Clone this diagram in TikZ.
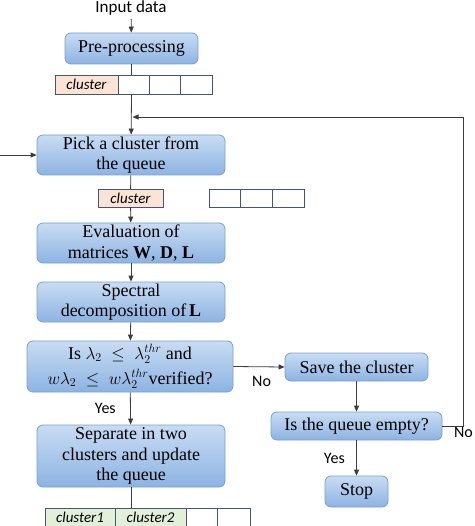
\documentclass[tikz,border=0pt]{standalone}
\usepackage{fontspec}
\setmainfont{Liberation Serif}
\newfontfamily\labelfont{Carlito}
\usetikzlibrary{positioning, arrows.meta}
\definecolor{blktop}{RGB}{200, 220, 243}
\definecolor{blkbot}{RGB}{141, 179, 226}
\definecolor{blkline}{RGB}{122, 160, 208}
\definecolor{cellline}{RGB}{70, 85, 115}
\definecolor{peach}{RGB}{251, 228, 213}
\definecolor{leaf}{RGB}{226, 239, 217}
\definecolor{lncol}{RGB}{60, 60, 60}

\begin{document}
\begin{tikzpicture}[x=1pt, y=-1pt,
        blk/.style={draw=blkline, line width=0.8pt, rounded corners=6pt,
                    top color=blktop, bottom color=blkbot, align=center,
                    inner sep=0pt, font=\rmfamily\fontsize{18}{20.5}\selectfont},
        cell/.style={draw=cellline, line width=0.8pt, minimum height=19pt,
                     inner sep=0pt, outer sep=0pt,
                     font=\labelfont\itshape\fontsize{15}{18}\selectfont},
        lbl/.style={font=\labelfont\fontsize{16}{19}\selectfont},
        arr/.style={draw=lncol, line width=0.8pt,
                    -{Triangle[length=6pt, width=5pt]}},
        lnk/.style={draw=lncol, line width=0.8pt}
    ]
    \useasboundingbox (0, 0) rectangle (474, 526);

    % main column
    \node[lbl, font=\labelfont\fontsize{17}{20}\selectfont] (inp) at (131, 8) {Input data};
    \node[blk, minimum width=133pt, minimum height=31pt] (pre) at (131.5, 48.5) {Pre-processing};
    \node[blk, minimum width=188pt, minimum height=40pt] (pick) at (131, 155)
        {Pick a cluster from\\the queue};
    \node[blk, minimum width=188pt, minimum height=40pt] (eval) at (131, 243)
        {Evaluation of\\matrices \textbf{W}, \textbf{D}, \textbf{L}};
    \node[blk, minimum width=188pt, minimum height=40pt] (spec) at (131, 302)
        {Spectral\\decomposition of\,\textbf{L}};
    \node[blk, minimum width=206pt, minimum height=51pt,
          font=\rmfamily\fontsize{18}{25}\selectfont] (test) at (130, 366.5)
        {Is $\lambda_2 \;\leq\; \lambda_2^{thr}$ and\\
         $w\lambda_2 \;\leq\; w\lambda_2^{thr}$verified?};
    \node[blk, minimum width=188pt, minimum height=62pt] (split) at (131, 456)
        {Separate in two\\clusters and update\\the queue};

    % right column
    \node[blk, minimum width=143pt, minimum height=28pt] (save) at (356.5, 367) {Save the cluster};
    \node[blk, minimum width=171pt, minimum height=28pt] (empty) at (356.5, 426) {Is the queue empty?};
    \node[blk, minimum width=63pt, minimum height=31pt] (stop) at (356.5, 491.5) {Stop};

    % queues
    \node[cell, fill=peach, minimum width=63pt] (qa1) at (86.5, 84.5) {cluster};
    \node[cell, minimum width=31.3pt, right=0pt of qa1] (qa2) {};
    \node[cell, minimum width=31.3pt, right=0pt of qa2] (qa3) {};
    \node[cell, minimum width=31.3pt, right=0pt of qa3] (qa4) {};

    \node[cell, fill=peach, minimum width=65pt, minimum height=18pt] (qb1) at (130.5, 198) {cluster};
    \node[cell, minimum width=31.7pt, minimum height=18pt] (qb2) at (224.8, 198) {};
    \node[cell, minimum width=31.7pt, minimum height=18pt, right=0pt of qb2] (qb3) {};
    \node[cell, minimum width=31.7pt, minimum height=18pt, right=0pt of qb3] (qb4) {};

    \node[cell, fill=leaf, minimum width=70pt] (qc1) at (80, 517.5) {cluster1};
    \node[cell, fill=leaf, minimum width=71pt, right=0pt of qc1] (qc2) {cluster2};
    \node[cell, minimum width=31pt, right=0pt of qc2] (qc3) {};
    \node[cell, minimum width=33pt, right=0pt of qc3] (qc4) {};

    \coordinate (lin) at (0, 155);
    \coordinate (join) at (132.5, 117);

    % connectors
    \draw[arr] (inp) -- (pre);
    \draw[lnk] (pre.south) -- (pre.south |- qa2.north);
    \draw[arr] (pre.south |- qa2.south) -- (pick);
    \draw[arr] (lin) -- (pick.west);
    \draw[lnk] (pick) -- (qb1);
    \draw[arr] (qb1) -- (eval);
    \draw[arr] (eval) -- (spec);
    \draw[arr] (spec) -- (test);
    \draw[arr] (test) -- (split) node[lbl, midway, left=11pt] {Yes};
    \draw[lnk] (split.south) -- (split.south |- qc2.north);
    \draw[arr] (test.east) -- (save.west) node[lbl, pos=0.55, below=6pt] {No};
    \draw[arr] (save) -- (empty);
    \draw[arr] (empty) -- (stop) node[lbl, midway, left=8pt] {Yes};
    \draw[arr] (empty.east) -- ++(21, 0) node[lbl, below, inner sep=1pt] {No} |- (join);

\end{tikzpicture}
\end{document}
